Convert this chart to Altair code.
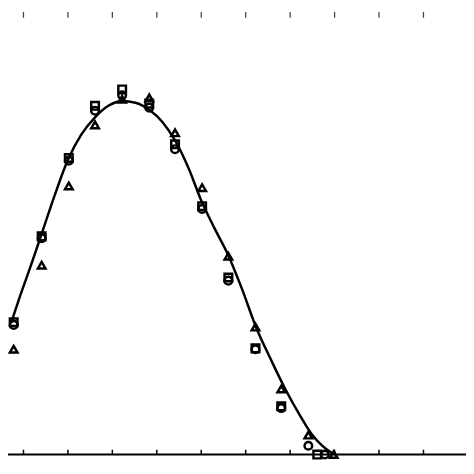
import pandas as pd
import altair as alt

# x in tick units (tick spacing = 1), y in the same sort of units, 0 = bottom axis
tick_x = [0, 1, 2, 3, 4, 5, 6, 7, 8, 9]

curve_x = [-0.28, -0.07, 0.17, 0.39, 0.70, 1.00, 1.30, 1.61, 1.91, 2.22, 2.52, 2.83, 3.13, 3.41,
           3.72, 4.00, 4.30, 4.61, 4.91, 5.24, 5.57, 5.89, 6.20, 6.50, 6.72, 6.89, 7.02]
curve_y = [2.97, 3.60, 4.28, 4.93, 5.85, 6.66, 7.23, 7.62, 7.88, 7.99, 7.95, 7.79, 7.51, 7.10,
           6.46, 5.74, 5.11, 4.50, 3.76, 2.86, 2.14, 1.48, 0.92, 0.44, 0.20, 0.07, 0.0]

square_x = [-0.22, 0.41, 1.02, 1.61, 2.22, 2.83, 3.41, 4.02, 4.61, 5.22, 5.80, 6.61]
square_y = [2.99, 4.93, 6.70, 7.88, 8.25, 7.93, 7.01, 5.61, 4.00, 2.40, 1.09, 0.0]

circle_x = [-0.22, 0.41, 1.02, 1.61, 2.22, 2.83, 3.41, 4.02, 4.61, 5.22, 5.80, 6.41, 6.78]
circle_y = [2.93, 4.89, 6.64, 7.77, 8.12, 7.84, 6.90, 5.55, 3.93, 2.38, 1.05, 0.20, 0.0]

triangle_x = [-0.22, 0.41, 1.02, 1.61, 2.22, 2.83, 3.41, 4.02, 4.61, 5.22, 5.80, 6.41, 6.98]
triangle_y = [2.38, 4.28, 6.07, 7.45, 8.03, 8.06, 7.27, 6.03, 4.48, 2.88, 1.48, 0.44, 0.0]

x_dom = [-0.348, 9.957]
y_dom = [-0.349, 10.0]
W = H = 466

xs = alt.Scale(domain=x_dom, nice=False, zero=False)
ys = alt.Scale(domain=y_dom, nice=False, zero=False)

pts = pd.concat([
    pd.DataFrame({'x': square_x, 'y': square_y, 's': 'square'}),
    pd.DataFrame({'x': circle_x, 'y': circle_y, 's': 'circle'}),
    pd.DataFrame({'x': triangle_x, 'y': triangle_y, 's': 'triangle'}),
])
curve = pd.DataFrame({'x': curve_x, 'y': curve_y})
ticks = pd.DataFrame({'x': tick_x, 'b0': 0.0, 'b1': 0.11, 't0': 10.0, 't1': 9.87})
base_line = pd.DataFrame({'x0': [x_dom[0]], 'x1': [x_dom[1]], 'y': [0.0]})

axis_line = alt.Chart(base_line).mark_rule(color='black', strokeWidth=2).encode(
    x=alt.X('x0:Q', scale=xs, axis=None), x2='x1:Q',
    y=alt.Y('y:Q', scale=ys, axis=None))

bottom_ticks = alt.Chart(ticks).mark_rule(color='black', strokeWidth=1.5).encode(
    x=alt.X('x:Q', scale=xs, axis=None),
    y=alt.Y('b0:Q', scale=ys, axis=None), y2='b1:Q')

top_ticks = alt.Chart(ticks).mark_rule(color='#444', strokeWidth=1.3).encode(
    x=alt.X('x:Q', scale=xs, axis=None),
    y=alt.Y('t0:Q', scale=ys, axis=None), y2='t1:Q')

line = alt.Chart(curve).mark_line(color='black', strokeWidth=2.5, interpolate='monotone').encode(
    x=alt.X('x:Q', scale=xs, axis=None),
    y=alt.Y('y:Q', scale=ys, axis=None))

markers = alt.Chart(pts).mark_point(filled=False, color='black', strokeWidth=2.5, size=60, opacity=1).encode(
    x=alt.X('x:Q', scale=xs, axis=None),
    y=alt.Y('y:Q', scale=ys, axis=None),
    shape=alt.Shape('s:N', scale=alt.Scale(domain=['square', 'circle', 'triangle'],
                                           range=['square', 'circle', 'triangle-up']), legend=None))

chart = alt.layer(axis_line, bottom_ticks, top_ticks, line, markers).properties(
    width=W, height=H, padding=0, autosize=alt.AutoSizeParams(type='none'),
    background='white').configure_view(strokeOpacity=0)

chart.save("out.html", embed_options={"renderer": "svg", "actions": False})
